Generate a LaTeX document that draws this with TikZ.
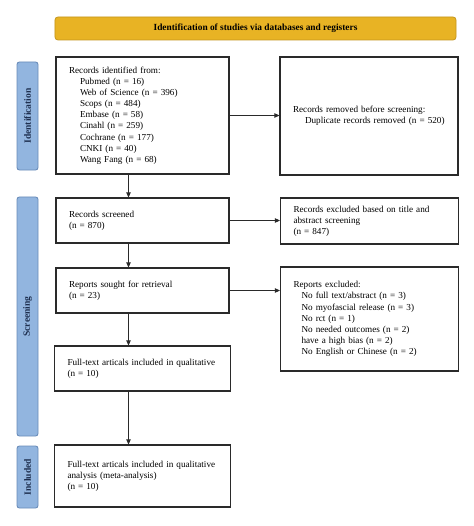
\documentclass[tikz,border=0pt]{standalone}
\usepackage{fontspec}
\setmainfont{Liberation Serif}
\usetikzlibrary{arrows.meta}
\definecolor{gold}{HTML}{E8B324}
\definecolor{goldline}{HTML}{C4961C}
\definecolor{sideblue}{HTML}{92B5DF}
\definecolor{sideline}{HTML}{6A8DBA}
\definecolor{navy}{HTML}{1E2F4F}
\definecolor{boxline}{HTML}{2A2A2A}
\begin{document}
\begin{tikzpicture}[x=1bp,y=-1bp,
  box/.style={draw=boxline,line width=1.2bp,fill=white,inner xsep=13bp,inner ysep=2bp,
    align=left,font=\fontsize{9.2}{11.2}\selectfont,anchor=center},
  side/.style={draw=sideline,line width=0.9bp,fill=sideblue,rounded corners=2.5bp,rotate=90,
    minimum height=21bp,inner sep=0pt,font=\bfseries\fontsize{9.6}{10}\selectfont,text=navy},
  arr/.style={draw=boxline,line width=0.9bp,-{Triangle[length=5bp,width=4.5bp]}}]
\useasboundingbox (0,0) rectangle (474,526);
\fill[white] (0,0) rectangle (474,526);
% title
\node[draw=goldline,fill=gold,line width=0.8bp,rounded corners=3bp,minimum width=401bp,minimum height=23bp,
  font=\bfseries\fontsize{9.4}{10}\selectfont] (title) at (255.5,28.5) {Identification of studies via databases and registers};
% side labels
\node[side,minimum width=108bp] (sid) at (27.5,116) {Identification};
\node[side,minimum width=239bp] (sscr) at (27.5,316.5) {Screening};
\node[side,minimum width=62bp] (sinc) at (27.5,477) {Included};
% boxes
\node[box,minimum width=173bp,minimum height=117bp,text width=147bp] (ident) at (142.5,115.5)
 {Records identified from:\\
  \hspace*{11bp}Pubmed (n = 16)\\
  \hspace*{11bp}Web of Science (n = 396)\\
  \hspace*{11bp}Scops (n = 484)\\
  \hspace*{11bp}Embase (n = 58)\\
  \hspace*{11bp}Cinahl (n = 259)\\
  \hspace*{11bp}Cochrane (n = 177)\\
  \hspace*{11bp}CNKI (n = 40)\\
  \hspace*{11bp}Wang Fang (n = 68)};
\node[box,minimum width=176bp,minimum height=118bp,text width=152bp] (removed) at (369,116)
 {Records removed before screening:\\
  \hspace*{12bp}Duplicate records removed (n = 520)};
\node[box,minimum width=173bp,minimum height=45bp,text width=147bp] (screened) at (142.5,220.5)
 {Records screened\\(n = 870)};
\node[box,minimum width=175bp,minimum height=46bp,text width=152bp] (excl1) at (369.5,221)
 {Records excluded based on title and\\abstract screening\\(n = 847)};
\node[box,minimum width=173bp,minimum height=45bp,text width=147bp] (sought) at (142.5,290.5)
 {Reports sought for retrieval\\(n = 23)};
\node[box,minimum width=175bp,minimum height=104bp,text width=152bp] (excl2) at (369.5,319)
 {Reports excluded:\\
  \hspace*{8bp}No full text/abstract (n = 3)\\
  \hspace*{8bp}No myofascial release (n = 3)\\
  \hspace*{8bp}No rct (n = 1)\\
  \hspace*{8bp}No needed outcomes (n = 2)\\
  \hspace*{8bp}have a high bias (n = 2)\\
  \hspace*{8bp}No English or Chinese (n = 2)};
\node[box,minimum width=173bp,minimum height=45bp,text width=150bp] (ft1) at (142.5,368.5)
 {Full-text articals included in qualitative\\(n = 10)};
\node[box,minimum width=173bp,minimum height=62bp,text width=150bp] (ft2) at (142.5,476)
 {Full-text articals included in qualitative\\analysis (meta-analysis)\\(n = 10)};
% arrows
\coordinate (ax) at (128.5,0);
\draw[arr] (ident.south -| ax) -- (screened.north -| ax);
\draw[arr] (screened.south -| ax) -- (sought.north -| ax);
\draw[arr] (sought.south -| ax) -- (ft1.north -| ax);
\draw[arr] (ft1.south -| ax) -- (ft2.north -| ax);
\draw[arr] (ident.east) -- (ident.east -| removed.west);
\draw[arr] (screened.east) -- (screened.east -| excl1.west);
\draw[arr] (sought.east) -- (sought.east -| excl2.west);
\end{tikzpicture}
\end{document}
